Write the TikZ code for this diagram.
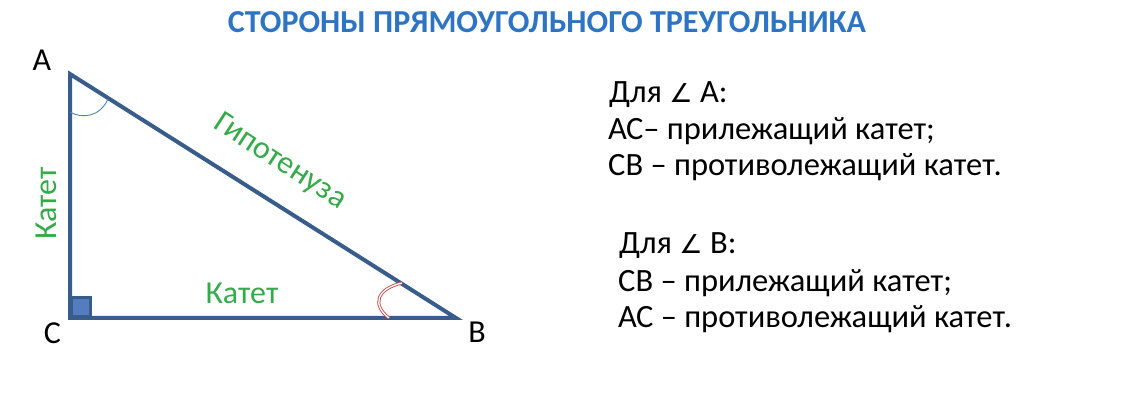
\documentclass[tikz,border=0pt]{standalone}
\usepackage{fontspec}
\setmainfont{Carlito}
\newfontfamily\symfont{DejaVu Sans}
\definecolor{triblue}{RGB}{56,93,138}
\definecolor{sqfill}{RGB}{84,125,192}
\definecolor{arcblue}{RGB}{79,129,189}
\definecolor{arcred}{RGB}{192,80,77}
\definecolor{titleblue}{RGB}{46,116,196}
\definecolor{labgreen}{RGB}{52,170,72}
\newcommand{\angsym}{{\symfont\fontsize{26}{30}\selectfont ∠}}
\tikzset{
  body/.style={font=\fontsize{32.5}{38}\selectfont, inner sep=0pt, anchor=base west},
  vlabel/.style={font=\fontsize{32}{38}\selectfont, inner sep=0pt, anchor=base},
  glabel/.style={font=\fontsize{32}{38}\selectfont, text=labgreen, inner sep=0pt, anchor=base},
}
\begin{document}
\begin{tikzpicture}[x=1pt,y=1pt]
\useasboundingbox (0,0) rectangle (1141,407);
% vertices
\coordinate (A) at (70,333);
\coordinate (C) at (70,89);
\coordinate (B) at (456,89);
% right-angle square
\draw[triblue, line width=3pt, fill=sqfill] (71.5,90.5) rectangle (90.5,109.5);
% triangle
\draw[triblue, line width=4pt] (A) -- (C) -- (B) -- cycle;
% angle marks
\draw[arcblue, line width=0.9pt] (70,295) .. controls (82,288) and (100,290) .. (108,308);
\draw[arcred, line width=0.9pt, double=white, double distance=1.3pt]
  (389,89) .. controls (372,102) and (376,118) .. (402,124);
% title
\node[font=\bfseries\fontsize{32}{38}\selectfont, text=titleblue, inner sep=0pt, anchor=base] (title) at (547,374) {СТОРОНЫ ПРЯМОУГОЛЬНОГО ТРЕУГОЛЬНИКА};
% vertex labels
\node[vlabel] (lA) at (42,336) {A};
\node[vlabel] (lB) at (477,64) {B};
\node[vlabel] (lC) at (52.5,63) {C};
% side labels
\node[glabel, rotate=90] (k1) at (57,203.5) {Катет};
\node[glabel] (k2) at (242,103) {Катет};
\node[font=\fontsize{32}{38}\selectfont, text=labgreen, inner sep=0pt, rotate=-33] (hyp) at (280,245) {Гипотенуза};
% right text
\node[body] (a1) at (609,304) {Для \angsym{} A:};
\node[body] (a2) at (608,267) {АС– прилежащий катет;};
\node[body] (a3) at (608,231) {СВ – противолежащий катет.};
\node[body] (b1) at (619,153) {Для \angsym{} B:};
\node[body] (b2) at (618,115) {СВ – прилежащий катет;};
\node[body] (b3) at (618,79) {АС – противолежащий катет.};
\end{tikzpicture}
\end{document}
